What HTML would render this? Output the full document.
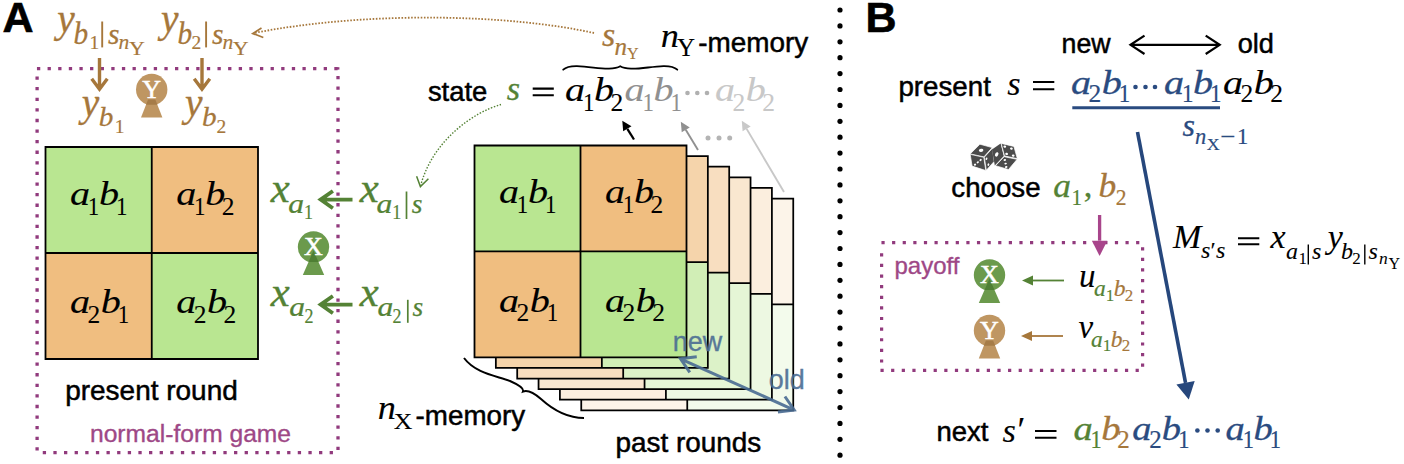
<!DOCTYPE html>
<html><head><meta charset="utf-8"><title>figure</title>
<style>html,body{margin:0;padding:0;background:#fff}svg{display:block}</style></head>
<body><svg width="1404" height="464" viewBox="0 0 1404 464">
<rect width="1404" height="464" fill="#fff"/>
<text x="2.60" y="31.60" font-family="Liberation Sans, sans-serif" font-size="43.00" font-weight="bold" fill="#000" stroke="#000" stroke-width="0.60">A</text>
<text x="865.60" y="31.60" font-family="Liberation Sans, sans-serif" font-size="43.00" font-weight="bold" fill="#000" stroke="#000" stroke-width="0.60">B</text>
<circle cx="840" cy="10.0" r="2.6" fill="#000"/>
<circle cx="840" cy="25.9" r="2.6" fill="#000"/>
<circle cx="840" cy="41.8" r="2.6" fill="#000"/>
<circle cx="840" cy="57.7" r="2.6" fill="#000"/>
<circle cx="840" cy="73.6" r="2.6" fill="#000"/>
<circle cx="840" cy="89.5" r="2.6" fill="#000"/>
<circle cx="840" cy="105.4" r="2.6" fill="#000"/>
<circle cx="840" cy="121.3" r="2.6" fill="#000"/>
<circle cx="840" cy="137.2" r="2.6" fill="#000"/>
<circle cx="840" cy="153.1" r="2.6" fill="#000"/>
<circle cx="840" cy="169.0" r="2.6" fill="#000"/>
<circle cx="840" cy="184.9" r="2.6" fill="#000"/>
<circle cx="840" cy="200.8" r="2.6" fill="#000"/>
<circle cx="840" cy="216.7" r="2.6" fill="#000"/>
<circle cx="840" cy="232.6" r="2.6" fill="#000"/>
<circle cx="840" cy="248.5" r="2.6" fill="#000"/>
<circle cx="840" cy="264.4" r="2.6" fill="#000"/>
<circle cx="840" cy="280.3" r="2.6" fill="#000"/>
<circle cx="840" cy="296.2" r="2.6" fill="#000"/>
<circle cx="840" cy="312.1" r="2.6" fill="#000"/>
<circle cx="840" cy="328.0" r="2.6" fill="#000"/>
<circle cx="840" cy="343.9" r="2.6" fill="#000"/>
<circle cx="840" cy="359.8" r="2.6" fill="#000"/>
<circle cx="840" cy="375.7" r="2.6" fill="#000"/>
<circle cx="840" cy="391.6" r="2.6" fill="#000"/>
<circle cx="840" cy="407.5" r="2.6" fill="#000"/>
<circle cx="840" cy="423.4" r="2.6" fill="#000"/>
<circle cx="840" cy="439.3" r="2.6" fill="#000"/>
<circle cx="840" cy="455.2" r="2.6" fill="#000"/>
<path d="M36.95 67.05h3.30v3.30h-3.30zM47.57 67.05h3.30v3.30h-3.30zM58.19 67.05h3.30v3.30h-3.30zM68.81 67.05h3.30v3.30h-3.30zM79.43 67.05h3.30v3.30h-3.30zM90.05 67.05h3.30v3.30h-3.30zM100.67 67.05h3.30v3.30h-3.30zM111.29 67.05h3.30v3.30h-3.30zM121.91 67.05h3.30v3.30h-3.30zM132.53 67.05h3.30v3.30h-3.30zM143.15 67.05h3.30v3.30h-3.30zM153.77 67.05h3.30v3.30h-3.30zM164.39 67.05h3.30v3.30h-3.30zM175.01 67.05h3.30v3.30h-3.30zM185.63 67.05h3.30v3.30h-3.30zM196.25 67.05h3.30v3.30h-3.30zM206.87 67.05h3.30v3.30h-3.30zM217.49 67.05h3.30v3.30h-3.30zM228.11 67.05h3.30v3.30h-3.30zM238.73 67.05h3.30v3.30h-3.30zM249.35 67.05h3.30v3.30h-3.30zM259.97 67.05h3.30v3.30h-3.30zM270.59 67.05h3.30v3.30h-3.30zM281.21 67.05h3.30v3.30h-3.30zM291.83 67.05h3.30v3.30h-3.30zM302.45 67.05h3.30v3.30h-3.30zM313.07 67.05h3.30v3.30h-3.30zM323.69 67.05h3.30v3.30h-3.30zM334.31 67.05h3.30v3.30h-3.30z" fill="#913a7d"/>
<path d="M336.35 75.95h3.30v3.30h-3.30zM336.35 86.54h3.30v3.30h-3.30zM336.35 97.14h3.30v3.30h-3.30zM336.35 107.73h3.30v3.30h-3.30zM336.35 118.33h3.30v3.30h-3.30zM336.35 128.92h3.30v3.30h-3.30zM336.35 139.51h3.30v3.30h-3.30zM336.35 150.11h3.30v3.30h-3.30zM336.35 160.70h3.30v3.30h-3.30zM336.35 171.30h3.30v3.30h-3.30zM336.35 181.89h3.30v3.30h-3.30zM336.35 192.48h3.30v3.30h-3.30zM336.35 203.08h3.30v3.30h-3.30zM336.35 213.67h3.30v3.30h-3.30zM336.35 224.27h3.30v3.30h-3.30zM336.35 234.86h3.30v3.30h-3.30zM336.35 245.45h3.30v3.30h-3.30zM336.35 256.05h3.30v3.30h-3.30zM336.35 266.64h3.30v3.30h-3.30zM336.35 277.24h3.30v3.30h-3.30zM336.35 287.83h3.30v3.30h-3.30zM336.35 298.42h3.30v3.30h-3.30zM336.35 309.02h3.30v3.30h-3.30zM336.35 319.61h3.30v3.30h-3.30zM336.35 330.21h3.30v3.30h-3.30zM336.35 340.80h3.30v3.30h-3.30zM336.35 351.39h3.30v3.30h-3.30zM336.35 361.99h3.30v3.30h-3.30zM336.35 372.58h3.30v3.30h-3.30zM336.35 383.18h3.30v3.30h-3.30zM336.35 393.77h3.30v3.30h-3.30zM336.35 404.36h3.30v3.30h-3.30zM336.35 414.96h3.30v3.30h-3.30zM336.35 425.55h3.30v3.30h-3.30zM336.35 436.15h3.30v3.30h-3.30zM336.35 446.74h3.30v3.30h-3.30z" fill="#913a7d"/>
<path d="M329.65 451.05h3.30v3.30h-3.30zM319.02 451.05h3.30v3.30h-3.30zM308.40 451.05h3.30v3.30h-3.30zM297.77 451.05h3.30v3.30h-3.30zM287.15 451.05h3.30v3.30h-3.30zM276.52 451.05h3.30v3.30h-3.30zM265.89 451.05h3.30v3.30h-3.30zM255.27 451.05h3.30v3.30h-3.30zM244.64 451.05h3.30v3.30h-3.30zM234.02 451.05h3.30v3.30h-3.30zM223.39 451.05h3.30v3.30h-3.30zM212.76 451.05h3.30v3.30h-3.30zM202.14 451.05h3.30v3.30h-3.30zM191.51 451.05h3.30v3.30h-3.30zM180.89 451.05h3.30v3.30h-3.30zM170.26 451.05h3.30v3.30h-3.30zM159.63 451.05h3.30v3.30h-3.30zM149.01 451.05h3.30v3.30h-3.30zM138.38 451.05h3.30v3.30h-3.30zM127.76 451.05h3.30v3.30h-3.30zM117.13 451.05h3.30v3.30h-3.30zM106.50 451.05h3.30v3.30h-3.30zM95.88 451.05h3.30v3.30h-3.30zM85.25 451.05h3.30v3.30h-3.30zM74.63 451.05h3.30v3.30h-3.30zM64.00 451.05h3.30v3.30h-3.30zM53.37 451.05h3.30v3.30h-3.30zM42.75 451.05h3.30v3.30h-3.30z" fill="#913a7d"/>
<path d="M35.45 447.25h3.30v3.30h-3.30zM35.45 436.66h3.30v3.30h-3.30zM35.45 426.06h3.30v3.30h-3.30zM35.45 415.47h3.30v3.30h-3.30zM35.45 404.87h3.30v3.30h-3.30zM35.45 394.28h3.30v3.30h-3.30zM35.45 383.69h3.30v3.30h-3.30zM35.45 373.09h3.30v3.30h-3.30zM35.45 362.50h3.30v3.30h-3.30zM35.45 351.90h3.30v3.30h-3.30zM35.45 341.31h3.30v3.30h-3.30zM35.45 330.72h3.30v3.30h-3.30zM35.45 320.12h3.30v3.30h-3.30zM35.45 309.53h3.30v3.30h-3.30zM35.45 298.93h3.30v3.30h-3.30zM35.45 288.34h3.30v3.30h-3.30zM35.45 277.75h3.30v3.30h-3.30zM35.45 267.15h3.30v3.30h-3.30zM35.45 256.56h3.30v3.30h-3.30zM35.45 245.96h3.30v3.30h-3.30zM35.45 235.37h3.30v3.30h-3.30zM35.45 224.78h3.30v3.30h-3.30zM35.45 214.18h3.30v3.30h-3.30zM35.45 203.59h3.30v3.30h-3.30zM35.45 192.99h3.30v3.30h-3.30zM35.45 182.40h3.30v3.30h-3.30zM35.45 171.81h3.30v3.30h-3.30zM35.45 161.21h3.30v3.30h-3.30zM35.45 150.62h3.30v3.30h-3.30zM35.45 140.02h3.30v3.30h-3.30zM35.45 129.43h3.30v3.30h-3.30zM35.45 118.84h3.30v3.30h-3.30zM35.45 108.24h3.30v3.30h-3.30zM35.45 97.65h3.30v3.30h-3.30zM35.45 87.05h3.30v3.30h-3.30zM35.45 76.46h3.30v3.30h-3.30z" fill="#913a7d"/>
<path d="M337 67.2h2.4v2.4h-2.4z" fill="#913a7d"/>
<path d="M881.46 241.10h3.20v3.20h-3.20zM892.07 241.10h3.20v3.20h-3.20zM902.68 241.10h3.20v3.20h-3.20zM913.29 241.10h3.20v3.20h-3.20zM923.90 241.10h3.20v3.20h-3.20zM934.51 241.10h3.20v3.20h-3.20zM945.12 241.10h3.20v3.20h-3.20zM955.73 241.10h3.20v3.20h-3.20zM966.34 241.10h3.20v3.20h-3.20zM976.95 241.10h3.20v3.20h-3.20zM987.56 241.10h3.20v3.20h-3.20zM998.17 241.10h3.20v3.20h-3.20zM1008.78 241.10h3.20v3.20h-3.20zM1019.39 241.10h3.20v3.20h-3.20zM1030.00 241.10h3.20v3.20h-3.20zM1040.61 241.10h3.20v3.20h-3.20zM1051.22 241.10h3.20v3.20h-3.20zM1061.83 241.10h3.20v3.20h-3.20zM1072.44 241.10h3.20v3.20h-3.20zM1083.05 241.10h3.20v3.20h-3.20zM1093.66 241.10h3.20v3.20h-3.20zM1104.27 241.10h3.20v3.20h-3.20zM1114.88 241.10h3.20v3.20h-3.20zM1125.49 241.10h3.20v3.20h-3.20zM1136.10 241.10h3.20v3.20h-3.20z" fill="#913a7d"/>
<path d="M1141.00 247.20h3.20v3.20h-3.20zM1141.00 257.78h3.20v3.20h-3.20zM1141.00 268.36h3.20v3.20h-3.20zM1141.00 278.94h3.20v3.20h-3.20zM1141.00 289.52h3.20v3.20h-3.20zM1141.00 300.10h3.20v3.20h-3.20zM1141.00 310.68h3.20v3.20h-3.20zM1141.00 321.26h3.20v3.20h-3.20zM1141.00 331.84h3.20v3.20h-3.20zM1141.00 342.42h3.20v3.20h-3.20zM1141.00 353.00h3.20v3.20h-3.20zM1141.00 363.58h3.20v3.20h-3.20z" fill="#913a7d"/>
<path d="M1135.60 368.70h3.20v3.20h-3.20zM1124.97 368.70h3.20v3.20h-3.20zM1114.34 368.70h3.20v3.20h-3.20zM1103.71 368.70h3.20v3.20h-3.20zM1093.08 368.70h3.20v3.20h-3.20zM1082.45 368.70h3.20v3.20h-3.20zM1071.82 368.70h3.20v3.20h-3.20zM1061.19 368.70h3.20v3.20h-3.20zM1050.56 368.70h3.20v3.20h-3.20zM1039.93 368.70h3.20v3.20h-3.20zM1029.30 368.70h3.20v3.20h-3.20zM1018.67 368.70h3.20v3.20h-3.20zM1008.04 368.70h3.20v3.20h-3.20zM997.41 368.70h3.20v3.20h-3.20zM986.78 368.70h3.20v3.20h-3.20zM976.15 368.70h3.20v3.20h-3.20zM965.52 368.70h3.20v3.20h-3.20zM954.89 368.70h3.20v3.20h-3.20zM944.26 368.70h3.20v3.20h-3.20zM933.63 368.70h3.20v3.20h-3.20zM923.00 368.70h3.20v3.20h-3.20zM912.37 368.70h3.20v3.20h-3.20zM901.74 368.70h3.20v3.20h-3.20zM891.11 368.70h3.20v3.20h-3.20zM880.48 368.70h3.20v3.20h-3.20z" fill="#913a7d"/>
<path d="M880.00 253.20h3.20v3.20h-3.20zM880.00 263.82h3.20v3.20h-3.20zM880.00 274.44h3.20v3.20h-3.20zM880.00 285.06h3.20v3.20h-3.20zM880.00 295.68h3.20v3.20h-3.20zM880.00 306.30h3.20v3.20h-3.20zM880.00 316.92h3.20v3.20h-3.20zM880.00 327.54h3.20v3.20h-3.20zM880.00 338.16h3.20v3.20h-3.20zM880.00 348.78h3.20v3.20h-3.20zM880.00 359.40h3.20v3.20h-3.20z" fill="#913a7d"/>
<rect x="581.25" y="198.50" width="106.00" height="105.90" fill="#f3fbec"/>
<rect x="687.25" y="198.50" width="106.00" height="105.90" fill="#fcf4e9"/>
<rect x="581.25" y="304.40" width="106.00" height="105.90" fill="#fcf4e9"/>
<rect x="687.25" y="304.40" width="106.00" height="105.90" fill="#f3fbec"/>
<path d="M581.25 198.50H793.25V410.30H581.25ZM687.25 198.50V410.30M581.25 304.40H793.25" fill="none" stroke="#000" stroke-width="1.75"/>
<rect x="559.90" y="187.90" width="106.00" height="105.90" fill="#edf8e2"/>
<rect x="665.90" y="187.90" width="106.00" height="105.90" fill="#fbeede"/>
<rect x="559.90" y="293.80" width="106.00" height="105.90" fill="#fbeede"/>
<rect x="665.90" y="293.80" width="106.00" height="105.90" fill="#edf8e2"/>
<path d="M559.90 187.90H771.90V399.70H559.90ZM665.90 187.90V399.70M559.90 293.80H771.90" fill="none" stroke="#000" stroke-width="1.75"/>
<rect x="538.55" y="177.30" width="106.00" height="105.90" fill="#e5f6d6"/>
<rect x="644.55" y="177.30" width="106.00" height="105.90" fill="#f9e7d0"/>
<rect x="538.55" y="283.20" width="106.00" height="105.90" fill="#f9e7d0"/>
<rect x="644.55" y="283.20" width="106.00" height="105.90" fill="#e5f6d6"/>
<path d="M538.55 177.30H750.55V389.10H538.55ZM644.55 177.30V389.10M538.55 283.20H750.55" fill="none" stroke="#000" stroke-width="1.75"/>
<rect x="517.20" y="166.70" width="106.00" height="105.90" fill="#dcf2c8"/>
<rect x="623.20" y="166.70" width="106.00" height="105.90" fill="#f8dec0"/>
<rect x="517.20" y="272.60" width="106.00" height="105.90" fill="#f8dec0"/>
<rect x="623.20" y="272.60" width="106.00" height="105.90" fill="#dcf2c8"/>
<path d="M517.20 166.70H729.20V378.50H517.20ZM623.20 166.70V378.50M517.20 272.60H729.20" fill="none" stroke="#000" stroke-width="1.75"/>
<rect x="495.85" y="156.10" width="106.00" height="105.90" fill="#d1eeb6"/>
<rect x="601.85" y="156.10" width="106.00" height="105.90" fill="#f5d4ab"/>
<rect x="495.85" y="262.00" width="106.00" height="105.90" fill="#f5d4ab"/>
<rect x="601.85" y="262.00" width="106.00" height="105.90" fill="#d1eeb6"/>
<path d="M495.85 156.10H707.85V367.90H495.85ZM601.85 156.10V367.90M495.85 262.00H707.85" fill="none" stroke="#000" stroke-width="1.75"/>
<rect x="474.50" y="145.50" width="106.00" height="105.90" fill="#b9e691"/>
<rect x="580.50" y="145.50" width="106.00" height="105.90" fill="#f0be80"/>
<rect x="474.50" y="251.40" width="106.00" height="105.90" fill="#f0be80"/>
<rect x="580.50" y="251.40" width="106.00" height="105.90" fill="#b9e691"/>
<path d="M474.50 145.50H686.50V357.30H474.50ZM580.50 145.50V357.30M474.50 251.40H686.50" fill="none" stroke="#000" stroke-width="1.80"/>
<text transform="translate(498.90 203.40) scale(1.160 1)" font-family="Liberation Serif, serif" font-size="34.60" font-style="italic" fill="#000" stroke="#000" stroke-width="0.12">a</text>
<text transform="translate(516.80 213.10) scale(0.900 1)" font-family="Liberation Serif, serif" font-size="25.50" fill="#000" stroke="#000" stroke-width="0.09">1</text>
<text transform="translate(527.90 203.40) scale(1.160 1)" font-family="Liberation Serif, serif" font-size="34.60" font-style="italic" fill="#000" stroke="#000" stroke-width="0.12">b</text>
<text transform="translate(544.90 213.10) scale(0.900 1)" font-family="Liberation Serif, serif" font-size="25.50" fill="#000" stroke="#000" stroke-width="0.09">1</text>
<text transform="translate(604.90 203.40) scale(1.160 1)" font-family="Liberation Serif, serif" font-size="34.60" font-style="italic" fill="#000" stroke="#000" stroke-width="0.12">a</text>
<text transform="translate(622.80 213.10) scale(0.900 1)" font-family="Liberation Serif, serif" font-size="25.50" fill="#000" stroke="#000" stroke-width="0.09">1</text>
<text transform="translate(633.90 203.40) scale(1.160 1)" font-family="Liberation Serif, serif" font-size="34.60" font-style="italic" fill="#000" stroke="#000" stroke-width="0.12">b</text>
<text x="650.40" y="213.10" font-family="Liberation Serif, serif" font-size="25.50" fill="#000" stroke="#000" stroke-width="0.09">2</text>
<text transform="translate(498.90 311.70) scale(1.160 1)" font-family="Liberation Serif, serif" font-size="34.60" font-style="italic" fill="#000" stroke="#000" stroke-width="0.12">a</text>
<text x="516.50" y="321.40" font-family="Liberation Serif, serif" font-size="25.50" fill="#000" stroke="#000" stroke-width="0.09">2</text>
<text transform="translate(529.70 311.70) scale(1.160 1)" font-family="Liberation Serif, serif" font-size="34.60" font-style="italic" fill="#000" stroke="#000" stroke-width="0.12">b</text>
<text transform="translate(546.70 321.40) scale(0.900 1)" font-family="Liberation Serif, serif" font-size="25.50" fill="#000" stroke="#000" stroke-width="0.09">1</text>
<text transform="translate(604.90 311.70) scale(1.160 1)" font-family="Liberation Serif, serif" font-size="34.60" font-style="italic" fill="#000" stroke="#000" stroke-width="0.12">a</text>
<text x="622.50" y="321.40" font-family="Liberation Serif, serif" font-size="25.50" fill="#000" stroke="#000" stroke-width="0.09">2</text>
<text transform="translate(635.70 311.70) scale(1.160 1)" font-family="Liberation Serif, serif" font-size="34.60" font-style="italic" fill="#000" stroke="#000" stroke-width="0.12">b</text>
<text x="652.20" y="321.40" font-family="Liberation Serif, serif" font-size="25.50" fill="#000" stroke="#000" stroke-width="0.09">2</text>
<rect x="45.50" y="147.00" width="106.25" height="106.00" fill="#b9e691"/>
<rect x="151.75" y="147.00" width="106.25" height="106.00" fill="#f0be80"/>
<rect x="45.50" y="253.00" width="106.25" height="106.00" fill="#f0be80"/>
<rect x="151.75" y="253.00" width="106.25" height="106.00" fill="#b9e691"/>
<path d="M45.50 147.00H258.00V359.00H45.50ZM151.75 147.00V359.00M45.50 253.00H258.00" fill="none" stroke="#000" stroke-width="1.80"/>
<text transform="translate(69.90 204.90) scale(1.160 1)" font-family="Liberation Serif, serif" font-size="34.60" font-style="italic" fill="#000" stroke="#000" stroke-width="0.12">a</text>
<text transform="translate(87.80 214.60) scale(0.900 1)" font-family="Liberation Serif, serif" font-size="25.50" fill="#000" stroke="#000" stroke-width="0.09">1</text>
<text transform="translate(98.90 204.90) scale(1.160 1)" font-family="Liberation Serif, serif" font-size="34.60" font-style="italic" fill="#000" stroke="#000" stroke-width="0.12">b</text>
<text transform="translate(115.90 214.60) scale(0.900 1)" font-family="Liberation Serif, serif" font-size="25.50" fill="#000" stroke="#000" stroke-width="0.09">1</text>
<text transform="translate(176.15 204.90) scale(1.160 1)" font-family="Liberation Serif, serif" font-size="34.60" font-style="italic" fill="#000" stroke="#000" stroke-width="0.12">a</text>
<text transform="translate(194.05 214.60) scale(0.900 1)" font-family="Liberation Serif, serif" font-size="25.50" fill="#000" stroke="#000" stroke-width="0.09">1</text>
<text transform="translate(205.15 204.90) scale(1.160 1)" font-family="Liberation Serif, serif" font-size="34.60" font-style="italic" fill="#000" stroke="#000" stroke-width="0.12">b</text>
<text x="221.65" y="214.60" font-family="Liberation Serif, serif" font-size="25.50" fill="#000" stroke="#000" stroke-width="0.09">2</text>
<text transform="translate(69.90 313.30) scale(1.160 1)" font-family="Liberation Serif, serif" font-size="34.60" font-style="italic" fill="#000" stroke="#000" stroke-width="0.12">a</text>
<text x="87.50" y="323.00" font-family="Liberation Serif, serif" font-size="25.50" fill="#000" stroke="#000" stroke-width="0.09">2</text>
<text transform="translate(100.70 313.30) scale(1.160 1)" font-family="Liberation Serif, serif" font-size="34.60" font-style="italic" fill="#000" stroke="#000" stroke-width="0.12">b</text>
<text transform="translate(117.70 323.00) scale(0.900 1)" font-family="Liberation Serif, serif" font-size="25.50" fill="#000" stroke="#000" stroke-width="0.09">1</text>
<text transform="translate(176.15 313.30) scale(1.160 1)" font-family="Liberation Serif, serif" font-size="34.60" font-style="italic" fill="#000" stroke="#000" stroke-width="0.12">a</text>
<text x="193.75" y="323.00" font-family="Liberation Serif, serif" font-size="25.50" fill="#000" stroke="#000" stroke-width="0.09">2</text>
<text transform="translate(206.95 313.30) scale(1.160 1)" font-family="Liberation Serif, serif" font-size="34.60" font-style="italic" fill="#000" stroke="#000" stroke-width="0.12">b</text>
<text x="223.45" y="323.00" font-family="Liberation Serif, serif" font-size="25.50" fill="#000" stroke="#000" stroke-width="0.09">2</text>
<text x="57.20" y="32.00" font-family="Liberation Serif, serif" font-size="39.30" font-style="italic" fill="#a6773b" stroke="#a6773b" stroke-width="0.35">y</text>
<text transform="translate(73.50 43.50) scale(0.930 1)" font-family="Liberation Serif, serif" font-size="31.50" font-style="italic" fill="#a6773b" stroke="#a6773b" stroke-width="0.28">b</text>
<text x="89.50" y="49.30" font-family="Liberation Serif, serif" font-size="19.50" fill="#a6773b" stroke="#a6773b" stroke-width="0.18">1</text>
<path d="M102.20 21.50V47.40" stroke="#a6773b" stroke-width="1.9"/>
<text x="108.10" y="43.50" font-family="Liberation Serif, serif" font-size="29.50" font-style="italic" fill="#a6773b" stroke="#a6773b" stroke-width="0.27">s</text>
<text transform="translate(118.60 48.70) scale(1.050 1)" font-family="Liberation Serif, serif" font-size="20.50" font-style="italic" fill="#a6773b" stroke="#a6773b" stroke-width="0.18">n</text>
<text transform="translate(128.90 54.50) scale(1.120 1)" font-family="Liberation Serif, serif" font-size="19.60" fill="#a6773b" stroke="#a6773b" stroke-width="0.18">Y</text>
<text x="161.10" y="32.00" font-family="Liberation Serif, serif" font-size="39.30" font-style="italic" fill="#a6773b" stroke="#a6773b" stroke-width="0.35">y</text>
<text transform="translate(177.40 43.50) scale(0.930 1)" font-family="Liberation Serif, serif" font-size="31.50" font-style="italic" fill="#a6773b" stroke="#a6773b" stroke-width="0.28">b</text>
<text x="191.60" y="49.30" font-family="Liberation Serif, serif" font-size="19.50" fill="#a6773b" stroke="#a6773b" stroke-width="0.18">2</text>
<path d="M206.10 21.50V47.40" stroke="#a6773b" stroke-width="1.9"/>
<text x="212.00" y="43.50" font-family="Liberation Serif, serif" font-size="29.50" font-style="italic" fill="#a6773b" stroke="#a6773b" stroke-width="0.27">s</text>
<text transform="translate(222.50 48.70) scale(1.050 1)" font-family="Liberation Serif, serif" font-size="20.50" font-style="italic" fill="#a6773b" stroke="#a6773b" stroke-width="0.18">n</text>
<text transform="translate(232.80 54.50) scale(1.120 1)" font-family="Liberation Serif, serif" font-size="19.60" fill="#a6773b" stroke="#a6773b" stroke-width="0.18">Y</text>
<text x="81.80" y="115.60" font-family="Liberation Serif, serif" font-size="39.30" font-style="italic" fill="#a6773b" stroke="#a6773b" stroke-width="0.35">y</text>
<text transform="translate(98.80 125.80) scale(1.050 1)" font-family="Liberation Serif, serif" font-size="27.80" font-style="italic" fill="#a6773b" stroke="#a6773b" stroke-width="0.25">b</text>
<text x="114.70" y="132.80" font-family="Liberation Serif, serif" font-size="19.50" fill="#a6773b" stroke="#a6773b" stroke-width="0.18">1</text>
<text x="184.90" y="115.60" font-family="Liberation Serif, serif" font-size="39.30" font-style="italic" fill="#a6773b" stroke="#a6773b" stroke-width="0.35">y</text>
<text transform="translate(201.90 125.80) scale(1.050 1)" font-family="Liberation Serif, serif" font-size="27.80" font-style="italic" fill="#a6773b" stroke="#a6773b" stroke-width="0.25">b</text>
<text x="216.60" y="132.80" font-family="Liberation Serif, serif" font-size="19.50" fill="#a6773b" stroke="#a6773b" stroke-width="0.18">2</text>
<path d="M99.50 58.00L99.50 87.16M91.70 78.70L99.50 89.20L107.30 78.70" fill="none" stroke="#a6773b" stroke-width="3.40" stroke-linecap="butt" stroke-linejoin="miter"/>
<path d="M202.00 58.00L202.00 87.16M194.20 78.70L202.00 89.20L209.80 78.70" fill="none" stroke="#a6773b" stroke-width="3.40" stroke-linecap="butt" stroke-linejoin="miter"/>
<path d="M148.10 99.50L155.30 99.50L162.40 117.50L141.00 117.50Z" fill="#bf9662"/>
<circle cx="151.70" cy="89.50" r="15.70" fill="#bf9662"/>
<path d="M148.10 99.50L155.30 99.50L157.40 104.70L146.00 104.70Z" fill="#a67c48"/>
<text x="151.70" y="97.80" text-anchor="middle" font-family="Liberation Serif, serif" font-size="26" fill="#fff" stroke="#fff" stroke-width="0.5">Y</text>
<path d="M313.50 250.60L324.20 275.00L302.80 275.00Z" fill="#6b9a4c"/>
<circle cx="313.50" cy="247.00" r="15.70" fill="#6b9a4c"/>
<path d="M313.50 250.60L318.50 262.00L308.50 262.00Z" fill="#4f7f34"/>
<text x="313.50" y="255.30" text-anchor="middle" font-family="Liberation Serif, serif" font-size="26" fill="#fff" stroke="#fff" stroke-width="0.5">X</text>
<path d="M989.50 278.60L1000.20 303.00L978.80 303.00Z" fill="#6b9a4c"/>
<circle cx="989.50" cy="275.00" r="15.70" fill="#6b9a4c"/>
<path d="M989.50 278.60L994.50 290.00L984.50 290.00Z" fill="#4f7f34"/>
<text x="989.50" y="283.30" text-anchor="middle" font-family="Liberation Serif, serif" font-size="26" fill="#fff" stroke="#fff" stroke-width="0.5">X</text>
<path d="M985.90 340.50L993.10 340.50L1000.20 358.50L978.80 358.50Z" fill="#bf9662"/>
<circle cx="989.50" cy="330.50" r="15.70" fill="#bf9662"/>
<path d="M985.90 340.50L993.10 340.50L995.20 345.70L983.80 345.70Z" fill="#a67c48"/>
<text x="989.50" y="338.80" text-anchor="middle" font-family="Liberation Serif, serif" font-size="26" fill="#fff" stroke="#fff" stroke-width="0.5">Y</text>
<text transform="translate(270.85 202.40) scale(1.080 1)" font-family="Liberation Serif, serif" font-size="39.50" font-style="italic" fill="#548235" stroke="#548235" stroke-width="0.36">x</text>
<text transform="translate(288.30 212.50) scale(1.150 1)" font-family="Liberation Serif, serif" font-size="27.50" font-style="italic" fill="#548235" stroke="#548235" stroke-width="0.25">a</text>
<text transform="translate(304.00 219.30) scale(0.900 1)" font-family="Liberation Serif, serif" font-size="20.00" fill="#548235" stroke="#548235" stroke-width="0.18">1</text>
<path d="M352.50 199.60L322.88 199.60M332.90 191.00L320.60 199.60L332.90 208.20" fill="none" stroke="#548235" stroke-width="3.80" stroke-linecap="butt" stroke-linejoin="miter"/>
<text transform="translate(359.75 202.40) scale(1.080 1)" font-family="Liberation Serif, serif" font-size="39.50" font-style="italic" fill="#548235" stroke="#548235" stroke-width="0.36">x</text>
<text transform="translate(376.60 212.50) scale(1.150 1)" font-family="Liberation Serif, serif" font-size="27.50" font-style="italic" fill="#548235" stroke="#548235" stroke-width="0.25">a</text>
<text transform="translate(392.30 219.30) scale(0.900 1)" font-family="Liberation Serif, serif" font-size="20.00" fill="#548235" stroke="#548235" stroke-width="0.18">1</text>
<path d="M406.50 191.50V219.00" stroke="#548235" stroke-width="1.7"/>
<text x="411.80" y="212.50" font-family="Liberation Serif, serif" font-size="27.50" font-style="italic" fill="#548235" stroke="#548235" stroke-width="0.25">s</text>
<text transform="translate(270.85 306.20) scale(1.080 1)" font-family="Liberation Serif, serif" font-size="39.50" font-style="italic" fill="#548235" stroke="#548235" stroke-width="0.36">x</text>
<text transform="translate(289.30 316.30) scale(1.150 1)" font-family="Liberation Serif, serif" font-size="27.50" font-style="italic" fill="#548235" stroke="#548235" stroke-width="0.25">a</text>
<text transform="translate(304.60 323.10) scale(0.900 1)" font-family="Liberation Serif, serif" font-size="20.00" fill="#548235" stroke="#548235" stroke-width="0.18">2</text>
<path d="M352.50 304.60L322.88 304.60M332.90 296.00L320.60 304.60L332.90 313.20" fill="none" stroke="#548235" stroke-width="3.80" stroke-linecap="butt" stroke-linejoin="miter"/>
<text transform="translate(359.75 306.20) scale(1.080 1)" font-family="Liberation Serif, serif" font-size="39.50" font-style="italic" fill="#548235" stroke="#548235" stroke-width="0.36">x</text>
<text transform="translate(377.60 316.30) scale(1.150 1)" font-family="Liberation Serif, serif" font-size="27.50" font-style="italic" fill="#548235" stroke="#548235" stroke-width="0.25">a</text>
<text transform="translate(392.60 323.10) scale(0.900 1)" font-family="Liberation Serif, serif" font-size="20.00" fill="#548235" stroke="#548235" stroke-width="0.18">2</text>
<path d="M407.80 299.80V322.80" stroke="#548235" stroke-width="1.7"/>
<text x="412.60" y="316.30" font-family="Liberation Serif, serif" font-size="27.50" font-style="italic" fill="#548235" stroke="#548235" stroke-width="0.25">s</text>
<text x="65.20" y="399.90" font-family="Liberation Sans, sans-serif" font-size="27.97" fill="#000" stroke="#000" stroke-width="0.50">present round</text>
<text x="90.00" y="441.75" font-family="Liberation Sans, sans-serif" font-size="24.61" fill="#9e4886" stroke="#9e4886" stroke-width="0.35">normal-form game</text>
<path d="M594 33C510 14.5 370 10.5 254 33" fill="none" stroke="#a6773b" stroke-width="1.8" stroke-dasharray="1.6 1.6"/>
<path d="M261.5 28L252.8 33.5L263.3 37.5" fill="none" stroke="#a6773b" stroke-width="1.7"/>
<path d="M501 104.5C474 112 433 140 420.8 185" fill="none" stroke="#548235" stroke-width="1.4" stroke-dasharray="1.5 1.6"/>
<path d="M416.6 176.3L420.4 186.6L428.4 178.8" fill="none" stroke="#548235" stroke-width="1.5"/>
<text x="427.90" y="101.00" font-family="Liberation Sans, sans-serif" font-size="27.44" fill="#000" stroke="#000" stroke-width="0.50">state</text>
<text x="506.70" y="100.00" font-family="Liberation Serif, serif" font-size="34.20" font-style="italic" fill="#548235" stroke="#548235" stroke-width="0.31">s</text>
<path d="M532.70 88.60H553.80M532.70 95.30H553.80" stroke="#000" stroke-width="2.10"/>
<text transform="translate(565.00 100.90) scale(1.160 1)" font-family="Liberation Serif, serif" font-size="34.60" font-style="italic" fill="#000" stroke="#000" stroke-width="0.12">a</text>
<text transform="translate(582.90 110.60) scale(0.900 1)" font-family="Liberation Serif, serif" font-size="25.50" fill="#000" stroke="#000" stroke-width="0.09">1</text>
<text transform="translate(594.00 100.90) scale(1.160 1)" font-family="Liberation Serif, serif" font-size="34.60" font-style="italic" fill="#000" stroke="#000" stroke-width="0.12">b</text>
<text x="610.50" y="110.60" font-family="Liberation Serif, serif" font-size="25.50" fill="#000" stroke="#000" stroke-width="0.09">2</text>
<text transform="translate(624.50 100.90) scale(1.160 1)" font-family="Liberation Serif, serif" font-size="34.60" font-style="italic" fill="#909090" stroke="#909090" stroke-width="0.06">a</text>
<text transform="translate(642.40 110.60) scale(0.900 1)" font-family="Liberation Serif, serif" font-size="25.50" fill="#909090" stroke="#909090" stroke-width="0.05">1</text>
<text transform="translate(653.50 100.90) scale(1.160 1)" font-family="Liberation Serif, serif" font-size="34.60" font-style="italic" fill="#909090" stroke="#909090" stroke-width="0.06">b</text>
<text transform="translate(670.50 110.60) scale(0.900 1)" font-family="Liberation Serif, serif" font-size="25.50" fill="#909090" stroke="#909090" stroke-width="0.05">1</text>
<circle cx="687.5" cy="93" r="2.3" fill="#b0b0b0"/>
<circle cx="697.3" cy="93" r="2.3" fill="#b0b0b0"/>
<circle cx="707.0" cy="93" r="2.3" fill="#b0b0b0"/>
<text transform="translate(715.00 100.90) scale(1.160 1)" font-family="Liberation Serif, serif" font-size="34.60" font-style="italic" fill="#c8c8c8" stroke="#c8c8c8" stroke-width="0.06">a</text>
<text x="732.60" y="110.60" font-family="Liberation Serif, serif" font-size="25.50" fill="#c8c8c8" stroke="#c8c8c8" stroke-width="0.05">2</text>
<text transform="translate(745.80 100.90) scale(1.160 1)" font-family="Liberation Serif, serif" font-size="34.60" font-style="italic" fill="#c8c8c8" stroke="#c8c8c8" stroke-width="0.06">b</text>
<text x="762.30" y="110.60" font-family="Liberation Serif, serif" font-size="25.50" fill="#c8c8c8" stroke="#c8c8c8" stroke-width="0.05">2</text>
<path d="M563.2 69.7C566 67 571 66 577 66.1C590 66.6 600 69 609 68.7C614 68.5 617.8 67.7 620.2 66.3C622.6 67.7 626 68.5 631 68.7C641 69 651 66.6 663.5 66.1C669.5 66 674.5 67 677.3 69.7" fill="none" stroke="#000" stroke-width="1.8" stroke-linecap="round"/>
<text x="602.00" y="45.50" font-family="Liberation Serif, serif" font-size="34.00" font-style="italic" fill="#a6773b" stroke="#a6773b" stroke-width="0.31">s</text>
<text x="614.50" y="54.50" font-family="Liberation Serif, serif" font-size="25.00" font-style="italic" fill="#a6773b" stroke="#a6773b" stroke-width="0.22">n</text>
<text x="627.00" y="59.00" font-family="Liberation Serif, serif" font-size="16.00" fill="#a6773b" stroke="#a6773b" stroke-width="0.14">Y</text>
<text transform="translate(660.80 46.70) scale(1.100 1)" font-family="Liberation Serif, serif" font-size="33.00" font-style="italic" fill="#000" stroke="#000" stroke-width="0.12">n</text>
<text x="677.00" y="55.50" font-family="Liberation Serif, serif" font-size="25.00" fill="#000" stroke="#000" stroke-width="0.09">Y</text>
<text x="698.20" y="51.70" font-family="Liberation Sans, sans-serif" font-size="27.92" fill="#000" stroke="#000" stroke-width="0.50">-memory</text>
<path d="M634.00 139.50L627.32 128.77" stroke="#000" stroke-width="2.30"/>
<path d="M631.48 126.18L622.30 120.70L623.16 131.35Z" fill="#000"/>
<path d="M698.00 150.00L685.73 129.82" stroke="#909090" stroke-width="1.90"/>
<path d="M689.75 127.38L680.80 121.70L681.72 132.26Z" fill="#909090"/>
<path d="M784.00 192.00L746.64 128.88" stroke="#c8c8c8" stroke-width="1.90"/>
<path d="M750.68 126.48L741.80 120.70L742.59 131.27Z" fill="#c8c8c8"/>
<circle cx="708.0" cy="138" r="2.5" fill="#b4b4b4"/>
<circle cx="719.0" cy="138" r="2.5" fill="#b4b4b4"/>
<circle cx="729.7" cy="138" r="2.5" fill="#b4b4b4"/>
<path d="M464 358C476 374 498 376 510 381C519 385 524 389 523 391.5C527 390 533 392 541 399C552 409 566 418 584 418" fill="none" stroke="#000" stroke-width="2"/>
<text transform="translate(377.70 419.40) scale(1.100 1)" font-family="Liberation Serif, serif" font-size="33.00" font-style="italic" fill="#000" stroke="#000" stroke-width="0.12">n</text>
<text transform="translate(393.70 428.60) scale(1.070 1)" font-family="Liberation Serif, serif" font-size="24.00" fill="#000" stroke="#000" stroke-width="0.09">X</text>
<text x="415.60" y="425.20" font-family="Liberation Sans, sans-serif" font-size="27.76" fill="#000" stroke="#000" stroke-width="0.50">-memory</text>
<text x="615.40" y="451.75" font-family="Liberation Sans, sans-serif" font-size="27.92" fill="#000" stroke="#000" stroke-width="0.50">past rounds</text>
<g opacity="0.9">
<text x="672.80" y="350.60" font-family="Liberation Sans, sans-serif" font-size="26.95" fill="#4a6c93" stroke="#4a6c93" stroke-width="0.35">new</text>
<text x="768.80" y="389.40" font-family="Liberation Sans, sans-serif" font-size="26.91" fill="#4a6c93" stroke="#4a6c93" stroke-width="0.35">old</text>
<path d="M682.14 359.54L792.56 409.26M689.78 372.30L680.50 358.80L696.76 356.80M777.94 412.00L794.20 410.00L784.92 396.50" fill="none" stroke="#4a6c93" stroke-width="3.00"/>
</g>
<text x="1061.60" y="52.80" font-family="Liberation Sans, sans-serif" font-size="26.73" fill="#000" stroke="#000" stroke-width="0.50">new</text>
<text x="1237.70" y="52.80" font-family="Liberation Sans, sans-serif" font-size="27.14" fill="#000" stroke="#000" stroke-width="0.50">old</text>
<path d="M1131.82 44.80L1218.38 44.80M1144.50 54.00L1130.50 44.80L1144.50 35.60M1205.70 54.00L1219.70 44.80L1205.70 35.60" fill="none" stroke="#000" stroke-width="2.20"/>
<text x="898.40" y="95.60" font-family="Liberation Sans, sans-serif" font-size="27.74" fill="#000" stroke="#000" stroke-width="0.50">present</text>
<text x="1007.20" y="94.90" font-family="Liberation Serif, serif" font-size="34.20" font-style="italic" fill="#000" stroke="#000" stroke-width="0.12">s</text>
<path d="M1033.00 82.00H1054.30M1033.00 89.20H1054.30" stroke="#000" stroke-width="2.10"/>
<text transform="translate(1071.00 93.80) scale(1.160 1)" font-family="Liberation Serif, serif" font-size="34.60" font-style="italic" fill="#2a4b80" stroke="#2a4b80" stroke-width="0.31">a</text>
<text x="1088.60" y="102.40" font-family="Liberation Serif, serif" font-size="25.50" fill="#2a4b80" stroke="#2a4b80" stroke-width="0.23">2</text>
<text transform="translate(1101.80 93.80) scale(1.160 1)" font-family="Liberation Serif, serif" font-size="34.60" font-style="italic" fill="#2a4b80" stroke="#2a4b80" stroke-width="0.31">b</text>
<text transform="translate(1118.80 102.40) scale(0.900 1)" font-family="Liberation Serif, serif" font-size="25.50" fill="#2a4b80" stroke="#2a4b80" stroke-width="0.23">1</text>
<circle cx="1135.5" cy="87" r="2.3" fill="#2a4b80"/>
<circle cx="1145.5" cy="87" r="2.3" fill="#2a4b80"/>
<circle cx="1155.0" cy="87" r="2.3" fill="#2a4b80"/>
<text transform="translate(1164.00 93.80) scale(1.160 1)" font-family="Liberation Serif, serif" font-size="34.60" font-style="italic" fill="#2a4b80" stroke="#2a4b80" stroke-width="0.31">a</text>
<text transform="translate(1181.90 102.40) scale(0.900 1)" font-family="Liberation Serif, serif" font-size="25.50" fill="#2a4b80" stroke="#2a4b80" stroke-width="0.23">1</text>
<text transform="translate(1193.00 93.80) scale(1.160 1)" font-family="Liberation Serif, serif" font-size="34.60" font-style="italic" fill="#2a4b80" stroke="#2a4b80" stroke-width="0.31">b</text>
<text transform="translate(1210.00 102.40) scale(0.900 1)" font-family="Liberation Serif, serif" font-size="25.50" fill="#2a4b80" stroke="#2a4b80" stroke-width="0.23">1</text>
<text transform="translate(1223.00 93.80) scale(1.160 1)" font-family="Liberation Serif, serif" font-size="34.60" font-style="italic" fill="#000" stroke="#000" stroke-width="0.12">a</text>
<text x="1240.60" y="102.40" font-family="Liberation Serif, serif" font-size="25.50" fill="#000" stroke="#000" stroke-width="0.09">2</text>
<text transform="translate(1253.80 93.80) scale(1.160 1)" font-family="Liberation Serif, serif" font-size="34.60" font-style="italic" fill="#000" stroke="#000" stroke-width="0.12">b</text>
<text x="1270.30" y="102.40" font-family="Liberation Serif, serif" font-size="25.50" fill="#000" stroke="#000" stroke-width="0.09">2</text>
<path d="M1072.3 107.8H1220" stroke="#2a4b80" stroke-width="3"/>
<text x="1182.50" y="135.50" font-family="Liberation Serif, serif" font-size="32.00" font-style="italic" fill="#2a4b80" stroke="#2a4b80" stroke-width="0.29">s</text>
<text x="1195.00" y="143.75" font-family="Liberation Serif, serif" font-size="22.50" font-style="italic" fill="#2a4b80" stroke="#2a4b80" stroke-width="0.20">n</text>
<text transform="translate(1206.80 150.00) scale(1.050 1)" font-family="Liberation Serif, serif" font-size="17.00" fill="#2a4b80" stroke="#2a4b80" stroke-width="0.15">X</text>
<text transform="translate(1220.30 143.75) scale(1.200 1)" font-family="Liberation Serif, serif" font-size="22.50" fill="#2a4b80" stroke="#2a4b80" stroke-width="0.20">−</text>
<text x="1237.00" y="143.75" font-family="Liberation Serif, serif" font-size="22.50" fill="#2a4b80" stroke="#2a4b80" stroke-width="0.20">1</text>
<path d="M1137.50 132.00L1185.55 382.80" stroke="#26477c" stroke-width="3.60"/>
<path d="M1176.42 384.55L1188.75 399.50L1194.69 381.05Z" fill="#26477c"/>
<text x="951.30" y="196.50" font-family="Liberation Sans, sans-serif" font-size="27.69" fill="#000" stroke="#000" stroke-width="0.50">choose</text>
<text transform="translate(1053.30 196.80) scale(1.080 1)" font-family="Liberation Serif, serif" font-size="32.80" font-style="italic" fill="#548235" stroke="#548235" stroke-width="0.30">a</text>
<text transform="translate(1071.60 205.30) scale(0.880 1)" font-family="Liberation Serif, serif" font-size="24.00" fill="#548235" stroke="#548235" stroke-width="0.22">1</text>
<text x="1083.70" y="196.80" font-family="Liberation Serif, serif" font-size="34.50" fill="#548235" stroke="#548235" stroke-width="0.31">,</text>
<text transform="translate(1098.40 196.80) scale(1.060 1)" font-family="Liberation Serif, serif" font-size="33.50" font-style="italic" fill="#a6773b" stroke="#a6773b" stroke-width="0.30">b</text>
<text transform="translate(1115.80 205.30) scale(0.900 1)" font-family="Liberation Serif, serif" font-size="24.00" fill="#a6773b" stroke="#a6773b" stroke-width="0.22">2</text>
<path d="M1099.60 215.00L1099.60 240.70" stroke="#a8458b" stroke-width="3.30"/>
<path d="M1091.90 240.70L1099.60 255.90L1107.30 240.70Z" fill="#a8458b"/>
<text x="894.50" y="273.75" font-family="Liberation Sans, sans-serif" font-size="24.00" fill="#9e4886" stroke="#9e4886" stroke-width="0.35">payoff</text>
<path d="M1064.00 280.50L1033.00 280.50" stroke="#548235" stroke-width="1.80"/>
<path d="M1033.00 275.50L1022.00 280.50L1033.00 285.50Z" fill="#548235"/>
<path d="M1063.00 336.00L1032.00 336.00" stroke="#a6773b" stroke-width="1.80"/>
<path d="M1032.00 331.00L1021.00 336.00L1032.00 341.00Z" fill="#a6773b"/>
<text x="1079.00" y="287.00" font-family="Liberation Serif, serif" font-size="33.00" font-style="italic" fill="#000" stroke="#000" stroke-width="0.12">u</text>
<text x="1094.00" y="296.00" font-family="Liberation Serif, serif" font-size="23.50" font-style="italic" fill="#548235" stroke="#548235" stroke-width="0.21">a</text>
<text x="1105.80" y="300.50" font-family="Liberation Serif, serif" font-size="17.00" fill="#548235" stroke="#548235" stroke-width="0.15">1</text>
<text x="1113.70" y="296.00" font-family="Liberation Serif, serif" font-size="23.50" font-style="italic" fill="#a6773b" stroke="#a6773b" stroke-width="0.21">b</text>
<text x="1124.70" y="300.50" font-family="Liberation Serif, serif" font-size="17.00" fill="#a6773b" stroke="#a6773b" stroke-width="0.15">2</text>
<text x="1078.60" y="337.50" font-family="Liberation Serif, serif" font-size="33.00" font-style="italic" fill="#000" stroke="#000" stroke-width="0.12">v</text>
<text x="1091.00" y="346.50" font-family="Liberation Serif, serif" font-size="23.50" font-style="italic" fill="#548235" stroke="#548235" stroke-width="0.21">a</text>
<text x="1102.80" y="351.00" font-family="Liberation Serif, serif" font-size="17.00" fill="#548235" stroke="#548235" stroke-width="0.15">1</text>
<text x="1110.70" y="346.50" font-family="Liberation Serif, serif" font-size="23.50" font-style="italic" fill="#a6773b" stroke="#a6773b" stroke-width="0.21">b</text>
<text x="1121.70" y="351.00" font-family="Liberation Serif, serif" font-size="17.00" fill="#a6773b" stroke="#a6773b" stroke-width="0.15">2</text>
<text x="1172.91" y="247.60" font-family="Liberation Serif, serif" font-size="34.00" font-style="italic" fill="#000" stroke="#000" stroke-width="0.12">M</text>
<text x="1201.00" y="258.30" font-family="Liberation Serif, serif" font-size="24.00" font-style="italic" fill="#000" stroke="#000" stroke-width="0.09">s</text>
<text x="1210.50" y="258.30" font-family="Liberation Serif, serif" font-size="24.00" fill="#000" stroke="#000" stroke-width="0.09">′</text>
<text x="1216.00" y="258.30" font-family="Liberation Serif, serif" font-size="24.00" font-style="italic" fill="#000" stroke="#000" stroke-width="0.09">s</text>
<path d="M1238.00 238.20H1259.30M1238.00 244.20H1259.30" stroke="#000" stroke-width="2.00"/>
<text x="1270.44" y="247.60" font-family="Liberation Serif, serif" font-size="34.00" font-style="italic" fill="#000" stroke="#000" stroke-width="0.12">x</text>
<text x="1286.00" y="258.80" font-family="Liberation Serif, serif" font-size="24.00" font-style="italic" fill="#000" stroke="#000" stroke-width="0.09">a</text>
<text x="1298.50" y="263.70" font-family="Liberation Serif, serif" font-size="17.00" fill="#000" stroke="#000" stroke-width="0.06">1</text>
<path d="M1308.3 244.5V264.5" stroke="#000" stroke-width="1.4"/>
<text x="1312.00" y="258.80" font-family="Liberation Serif, serif" font-size="24.00" font-style="italic" fill="#000" stroke="#000" stroke-width="0.09">s</text>
<text x="1327.86" y="247.60" font-family="Liberation Serif, serif" font-size="34.00" font-style="italic" fill="#000" stroke="#000" stroke-width="0.12">y</text>
<text x="1341.00" y="258.80" font-family="Liberation Serif, serif" font-size="24.00" font-style="italic" fill="#000" stroke="#000" stroke-width="0.09">b</text>
<text x="1352.30" y="263.70" font-family="Liberation Serif, serif" font-size="17.00" fill="#000" stroke="#000" stroke-width="0.06">2</text>
<path d="M1364.8 244.5V264.5" stroke="#000" stroke-width="1.4"/>
<text x="1368.50" y="258.80" font-family="Liberation Serif, serif" font-size="24.00" font-style="italic" fill="#000" stroke="#000" stroke-width="0.09">s</text>
<text x="1379.00" y="263.70" font-family="Liberation Serif, serif" font-size="17.50" font-style="italic" fill="#000" stroke="#000" stroke-width="0.06">n</text>
<text x="1388.60" y="268.70" font-family="Liberation Serif, serif" font-size="16.00" fill="#000" stroke="#000" stroke-width="0.06">Y</text>
<text x="936.50" y="441.00" font-family="Liberation Sans, sans-serif" font-size="27.51" fill="#000" stroke="#000" stroke-width="0.50">next</text>
<text x="1002.60" y="442.40" font-family="Liberation Serif, serif" font-size="34.20" font-style="italic" fill="#000" stroke="#000" stroke-width="0.12">s</text>
<text x="1017.50" y="442.40" font-family="Liberation Serif, serif" font-size="36.00" fill="#000" stroke="#000" stroke-width="0.13">′</text>
<path d="M1035.00 431.00H1056.50M1035.00 437.70H1056.50" stroke="#000" stroke-width="2.10"/>
<text transform="translate(1073.40 440.00) scale(1.120 1)" font-family="Liberation Serif, serif" font-size="34.40" font-style="italic" fill="#548235" stroke="#548235" stroke-width="0.31">a</text>
<text transform="translate(1090.62 447.98) scale(0.900 1)" font-family="Liberation Serif, serif" font-size="25.00" fill="#548235" stroke="#548235" stroke-width="0.22">1</text>
<text transform="translate(1101.30 440.00) scale(1.120 1)" font-family="Liberation Serif, serif" font-size="34.40" font-style="italic" fill="#a6773b" stroke="#a6773b" stroke-width="0.31">b</text>
<text x="1117.17" y="447.98" font-family="Liberation Serif, serif" font-size="25.00" fill="#a6773b" stroke="#a6773b" stroke-width="0.22">2</text>
<text transform="translate(1132.20 440.00) scale(1.120 1)" font-family="Liberation Serif, serif" font-size="34.40" font-style="italic" fill="#2a4b80" stroke="#2a4b80" stroke-width="0.31">a</text>
<text x="1149.13" y="447.98" font-family="Liberation Serif, serif" font-size="25.00" fill="#2a4b80" stroke="#2a4b80" stroke-width="0.22">2</text>
<text transform="translate(1161.83 440.00) scale(1.120 1)" font-family="Liberation Serif, serif" font-size="34.40" font-style="italic" fill="#2a4b80" stroke="#2a4b80" stroke-width="0.31">b</text>
<text transform="translate(1178.18 447.98) scale(0.900 1)" font-family="Liberation Serif, serif" font-size="25.00" fill="#2a4b80" stroke="#2a4b80" stroke-width="0.22">1</text>
<circle cx="1197.4" cy="430.5" r="2.3" fill="#2a4b80"/>
<circle cx="1207.5" cy="430.5" r="2.3" fill="#2a4b80"/>
<circle cx="1217.7" cy="430.5" r="2.3" fill="#2a4b80"/>
<text transform="translate(1225.50 440.00) scale(1.120 1)" font-family="Liberation Serif, serif" font-size="34.40" font-style="italic" fill="#2a4b80" stroke="#2a4b80" stroke-width="0.31">a</text>
<text transform="translate(1242.72 447.98) scale(0.900 1)" font-family="Liberation Serif, serif" font-size="25.00" fill="#2a4b80" stroke="#2a4b80" stroke-width="0.22">1</text>
<text transform="translate(1253.40 440.00) scale(1.120 1)" font-family="Liberation Serif, serif" font-size="34.40" font-style="italic" fill="#2a4b80" stroke="#2a4b80" stroke-width="0.31">b</text>
<text transform="translate(1269.75 447.98) scale(0.900 1)" font-family="Liberation Serif, serif" font-size="25.00" fill="#2a4b80" stroke="#2a4b80" stroke-width="0.22">1</text>
<path d="M970.2 153.9L979.9 144.2L992.2 147.6L983.9 156.9Z" fill="#4b4b4b" stroke="#fff" stroke-width="0.7" stroke-linejoin="round"/>
<path d="M970.2 154.3L983.8 157.3L985.8 170.5L972.1 166.1Z" fill="#4b4b4b" stroke="#fff" stroke-width="0.7" stroke-linejoin="round"/>
<path d="M984.3 157.2L992.5 148.2L994.2 161.4L986.3 170.3Z" fill="#4b4b4b" stroke="#fff" stroke-width="0.7" stroke-linejoin="round"/>
<path d="M992 149.6L1000.6 143.6L1003.8 156.1L994.8 165.6Z" fill="#4b4b4b"/>
<path d="M1001.2 143.4L1013.9 146.4L1017.3 158.6L1004.5 155.9Z" fill="#4b4b4b" stroke="#fff" stroke-width="0.7" stroke-linejoin="round"/>
<path d="M1004.2 156.7L1017.1 159.3L1008.5 169.5L995.5 165.7Z" fill="#4b4b4b" stroke="#fff" stroke-width="0.7" stroke-linejoin="round"/>
<ellipse cx="981.1" cy="150.3" rx="2.30" ry="1.60" fill="#fff" transform="rotate(-8 981.1 150.3)"/>
<ellipse cx="975.0" cy="164.6" rx="1.20" ry="1.00" fill="#fff" transform="rotate(-35 975.0 164.6)"/>
<ellipse cx="977.8" cy="162.3" rx="1.20" ry="1.00" fill="#fff" transform="rotate(-35 977.8 162.3)"/>
<ellipse cx="980.6" cy="160.0" rx="1.20" ry="1.00" fill="#fff" transform="rotate(-35 980.6 160.0)"/>
<ellipse cx="986.5" cy="158.8" rx="0.90" ry="1.30" fill="#fff" transform="rotate(20 986.5 158.8)"/>
<ellipse cx="988.4" cy="164.6" rx="0.90" ry="1.30" fill="#fff" transform="rotate(20 988.4 164.6)"/>
<ellipse cx="996.7" cy="154.4" rx="1.60" ry="2.30" fill="#fff" transform="rotate(25 996.7 154.4)"/>
<ellipse cx="1004.8" cy="146.6" rx="1.40" ry="1.10" fill="#fff" transform="rotate(20 1004.8 146.6)"/>
<ellipse cx="1011.4" cy="148.6" rx="1.40" ry="1.10" fill="#fff" transform="rotate(20 1011.4 148.6)"/>
<ellipse cx="1006.6" cy="153.9" rx="1.40" ry="1.10" fill="#fff" transform="rotate(20 1006.6 153.9)"/>
<ellipse cx="1013.2" cy="155.6" rx="1.40" ry="1.10" fill="#fff" transform="rotate(20 1013.2 155.6)"/>
<ellipse cx="1004.8" cy="160.0" rx="1.30" ry="0.90" fill="#fff" transform="rotate(-10 1004.8 160.0)"/>
<ellipse cx="1005.6" cy="163.6" rx="1.30" ry="0.90" fill="#fff" transform="rotate(-10 1005.6 163.6)"/>
<ellipse cx="1006.2" cy="167.0" rx="1.30" ry="0.90" fill="#fff" transform="rotate(-10 1006.2 167.0)"/>
</svg></body></html>
